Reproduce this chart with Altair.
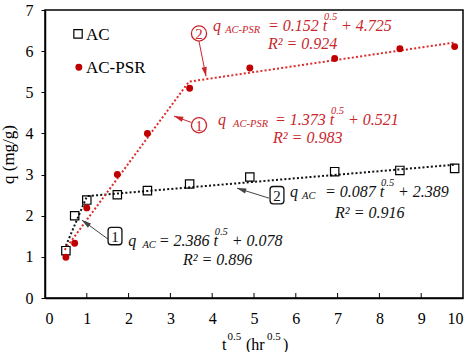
import math
import altair as alt
import pandas as pd

FONT = "serif"
RED_MK = "#C00000"
RED_LN = "#DD2A2A"
RED_TX = "#C8262B"
DARK = "#111111"

# ---- measured data ----
series = ["AC", "AC-PSR"]
t_sqrt = [0.5, 0.71, 1.0, 1.73, 2.45, 3.46, 4.9, 6.93, 8.49, 9.8]
q_ac = [1.15, 2.0, 2.38, 2.51, 2.61, 2.77, 2.94, 3.07, 3.10, 3.15]
q_psr = [0.99, 1.33, 2.19, 3.0, 4.0, 5.1, 5.59, 5.82, 6.06, 6.11]

trend_ac_x = [0.5, 1.005, 9.8]
trend_ac_y = [1.27, 2.476, 3.24]
trend_psr_x = [0.47, 3.443, 9.8]
trend_psr_y = [1.17, 5.258, 6.21]

x_ticks = list(range(0, 11))
y_ticks = list(range(0, 8))

# legend entries (placed in data units)
legend_x = [0.79, 0.81]
legend_y = [6.42, 5.61]
legend_label_x = [0.98, 0.98]

# ---- equation annotations ----
eq_sub = ["AC-PSR", "AC-PSR", "AC", "AC"]
eq_slope = ["= 0.152 t", "= 1.373 t", "= 0.087 t", "= 2.386 t"]
eq_icpt = ["+ 4.725", "+ 0.521", "+ 2.389", "+ 0.078"]
eq_r2 = ["R² = 0.924", "R² = 0.983", "R² = 0.916", "R² = 0.896"]
eq_q_x = [4.02, 4.14, 5.86, 1.99]
eq_sub_x = [4.31, 4.50, 6.15, 2.33]
eq_eq_x = [5.335, 5.50, 6.70, 2.72]
eq_y = [6.60, 4.32, 2.573, 1.383]
eq_r2_x = [5.335, 5.455, 6.94, 3.30]
eq_r2_y = [6.17, 3.88, 2.063, 0.92]
eq_color = [RED_TX, RED_TX, DARK, DARK]

num_text = ["2", "1", "2", "1"]
num_x = [3.684, 3.684, 5.55, 1.675]
num_y = [6.43, 4.20, 2.50, 1.505]
num_frame = ["circle", "circle", "box", "box"]
num_color = [RED_TX, RED_TX, DARK, DARK]

arrow_x0 = [3.684, 3.493, 5.359, 1.507]
arrow_y0 = [6.24, 4.27, 2.427, 1.432]
arrow_x1 = [3.852, 3.086, 4.593, 0.885]
arrow_y1 = [5.39, 4.42, 2.67, 1.893]
arrow_color = [RED_TX, RED_TX, "#444444", "#444444"]

W, H = 418, 288
PX = W / 10.0
PY = H / 7.0

xs = alt.Scale(domain=[0, 10], nice=False, zero=False)
ys = alt.Scale(domain=[0, 7], nice=False, zero=False)

ac_df = pd.DataFrame({"t": t_sqrt, "q": q_ac})
psr_df = pd.DataFrame({"t": t_sqrt, "q": q_psr})
tr_ac = pd.DataFrame({"t": trend_ac_x, "q": trend_ac_y})
tr_psr = pd.DataFrame({"t": trend_psr_x, "q": trend_psr_y})
leg_df = pd.DataFrame({"x": legend_x, "y": legend_y, "lx": legend_label_x, "label": series})

rows = []
for i in range(4):
    c = eq_color[i]
    rows.append(dict(text="q", x=eq_q_x[i], y=eq_y[i], kind="main", color=c))
    rows.append(dict(text=eq_sub[i], x=eq_sub_x[i], y=eq_y[i] - 4 / PY, kind="sub", color=c))
    rows.append(dict(text=eq_slope[i], x=eq_eq_x[i], y=eq_y[i], kind="main", color=c))
    rows.append(dict(text="0.5", x=eq_eq_x[i] + 56 / PX, y=eq_y[i] + 9 / PY, kind="sup", color=c))
    rows.append(dict(text=eq_icpt[i], x=eq_eq_x[i] + 73 / PX, y=eq_y[i], kind="main", color=c))
    rows.append(dict(text=eq_r2[i], x=eq_r2_x[i], y=eq_r2_y[i], kind="main", color=c))
segs = pd.DataFrame(rows)
nums = pd.DataFrame({"text": num_text, "x": num_x, "y": num_y,
                     "frame": num_frame, "color": num_color})

heads = []
for i in range(4):
    sx = (arrow_x1[i] - arrow_x0[i]) * PX
    sy = -(arrow_y1[i] - arrow_y0[i]) * PY
    L = math.hypot(sx, sy)
    ux, uy = sx / L, sy / L
    ang = math.degrees(math.atan2(sx, -sy)) % 360
    heads.append({
        "x": arrow_x1[i] - ux * 4.5 / PX,
        "y": arrow_y1[i] + uy * 4.5 / PY,
        "angle": ang,
        "color": arrow_color[i],
    })
arrows = pd.DataFrame({"x": arrow_x0, "y": arrow_y0, "x2": arrow_x1,
                       "y2": arrow_y1, "color": arrow_color})
heads = pd.DataFrame(heads)

X = alt.X("t:Q", scale=xs, axis=alt.Axis(values=x_ticks, title=None, tickSize=0,
                                         labelPadding=12, grid=False))
Y = alt.Y("q:Q", scale=ys, axis=alt.Axis(values=y_ticks, title="q (mg/g)", tickSize=4,
                                         labelPadding=8, titlePadding=8, grid=False))

line_ac = alt.Chart(tr_ac).mark_line(strokeWidth=2, strokeDash=[2, 2.2], color=DARK).encode(x=X, y=Y)
line_psr = alt.Chart(tr_psr).mark_line(strokeWidth=2, strokeDash=[2, 2.2], color=RED_LN).encode(x="t:Q", y="q:Q")

pts_ac = alt.Chart(ac_df).mark_point(shape="square", filled=False, size=70, strokeWidth=1.2,
                                     color="black", opacity=1).encode(x="t:Q", y="q:Q")
pts_psr = alt.Chart(psr_df).mark_point(shape="circle", filled=True, size=48,
                                       color=RED_MK, opacity=1).encode(x="t:Q", y="q:Q")

leg_sq = alt.Chart(leg_df).transform_filter("datum.label == 'AC'").mark_point(
    shape="square", filled=False, size=70, strokeWidth=1.2, color="black", opacity=1).encode(x="x:Q", y="y:Q")
leg_ci = alt.Chart(leg_df).transform_filter("datum.label == 'AC-PSR'").mark_point(
    shape="circle", filled=True, size=48, color=RED_MK, opacity=1).encode(x="x:Q", y="y:Q")
leg_tx = alt.Chart(leg_df).mark_text(font=FONT, fontSize=17, align="left", baseline="middle",
                                     color="black", dy=1).encode(x="lx:Q", y="y:Q", text="label:N")

ticks = alt.Chart(pd.DataFrame({"t": x_ticks[1:-1]})).mark_rule(color="black", strokeWidth=1).encode(
    x="t:Q", y=alt.value(H), y2=alt.value(H - 5))

arrow_lines = alt.Chart(arrows).mark_rule(strokeWidth=1).encode(
    x="x:Q", y="y:Q", x2="x2:Q", y2="y2:Q", color=alt.Color("color:N", scale=None))
arrow_heads = alt.Chart(heads).mark_point(
    shape="M0,-1L0.55,1L-0.55,1Z", filled=True, size=90, opacity=1).encode(
    x="x:Q", y="y:Q", angle=alt.Angle("angle:Q", scale=None), color=alt.Color("color:N", scale=None))

frames_c = alt.Chart(nums).transform_filter("datum.frame == 'circle'").mark_point(
    shape="circle", filled=False, size=230, strokeWidth=1.3, opacity=1).encode(
    x="x:Q", y="y:Q", color=alt.Color("color:N", scale=None))
frames_b = alt.Chart(nums).transform_filter("datum.frame == 'box'").mark_point(
    shape="M-0.45,-1L0.45,-1Q0.8,-1 0.8,-0.65L0.8,0.65Q0.8,1 0.45,1L-0.45,1Q-0.8,1 -0.8,0.65L-0.8,-0.65Q-0.8,-1 -0.45,-1Z",
    filled=False, size=300, strokeWidth=1.3, opacity=1).encode(
    x="x:Q", y="y:Q", color=alt.Color("color:N", scale=None))
num_txt = alt.Chart(nums).mark_text(font=FONT, fontSize=15, baseline="middle", align="center", dy=1).encode(
    x="x:Q", y="y:Q", text="text:N", color=alt.Color("color:N", scale=None))

def seg_layer(kind, size, italic=True):
    return alt.Chart(segs).transform_filter(f"datum.kind == '{kind}'").mark_text(
        font=FONT, fontSize=size, fontStyle="italic" if italic else "normal",
        align="left", baseline="middle").encode(
        x="x:Q", y="y:Q", text="text:N", color=alt.Color("color:N", scale=None))

main_txt = seg_layer("main", 16)
sub_txt = seg_layer("sub", 10.5)
sup_txt = seg_layer("sup", 10.5)

# x-axis title with superscripts
xt_text = ["t", "0.5", "(hr", "0.5", ")"]
xt_x = [177, 182.5, 201, 222, 238]
xt_y = [335, 327, 335, 327, 335]
xt_size = [16, 11, 16, 11, 16]
xt = pd.DataFrame({"text": xt_text, "px": xt_x, "py": xt_y, "size": xt_size})
xtitle = alt.Chart(xt).mark_text(font=FONT, align="left", baseline="middle", color="black").encode(
    x=alt.X("px:Q", scale=None), y=alt.Y("py:Q", scale=None), text="text:N",
    size=alt.Size("size:Q", scale=None))

chart = alt.layer(
    ticks, line_ac, line_psr, arrow_lines, arrow_heads, pts_ac, pts_psr,
    leg_sq, leg_ci, leg_tx, frames_c, frames_b, num_txt,
    main_txt, sub_txt, sup_txt, xtitle
).properties(
    width=W, height=H,
    autosize=alt.AutoSizeParams(type="none"),
    padding={"left": 45, "top": 10, "right": 11, "bottom": 54},
).configure_view(stroke="black", strokeWidth=1.5).configure_axis(
    labelFont=FONT, labelFontSize=16, labelColor="black", titleFont=FONT,
    titleFontSize=17, titleFontWeight="normal", titleColor="black",
    domainColor="black", domainWidth=1.5, tickColor="black", tickWidth=1,
)

chart.save("out.html", embed_options={"renderer": "svg", "actions": False})
